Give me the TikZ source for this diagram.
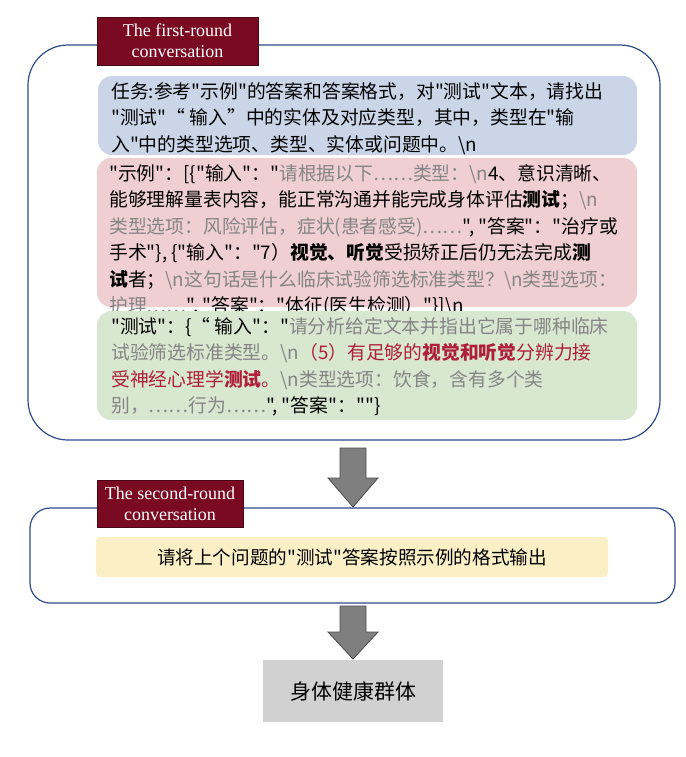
\documentclass[tikz,border=0pt]{standalone}
\usepackage{fontspec}
\setmainfont{Liberation Serif}
\newfontfamily\cjk{Noto Sans CJK SC}
\definecolor{bord}{HTML}{2F4A8A}
\definecolor{tag}{HTML}{7A0A22}
\definecolor{bluef}{HTML}{CAD6E8}
\definecolor{pinkf}{HTML}{EFCFD2}
\definecolor{greenf}{HTML}{D7E7D0}
\definecolor{yelf}{HTML}{FBEFC6}
\definecolor{grayt}{HTML}{858585}
\definecolor{redt}{HTML}{B01F3A}
\definecolor{arrf}{HTML}{7F7F7F}
\newcommand{\gt}[1]{\textcolor{grayt}{#1}}
\newcommand{\rt}[1]{\textcolor{redt}{#1}}
\begin{document}
\begin{tikzpicture}[x=1pt,y=-1pt,
  outer/.style={draw=bord,line width=1.2pt,rounded corners=#1},
  tagbox/.style={fill=tag,draw=tag!60!black,text=white,font=\fontsize{18}{21}\selectfont,align=center,inner sep=0pt},
  txt/.style={anchor=north west,align=left,inner sep=0pt,font=\cjk\fontsize{18.8}{26.5}\selectfont},
  barrow/.style={fill=arrf,draw=black!70,line width=0.8pt}]
\useasboundingbox (0,0) rectangle (685,757);
% first round
\draw[outer=40pt] (28,45) rectangle (660,440);
\node[tagbox,minimum width=161pt,minimum height=48pt] (t1) at (177.5,41) {The first-round\\conversation};
\fill[bluef,rounded corners=14pt] (98,76) rectangle (637,155);
\node[txt] (b1) at (111,82) {任务:参考"示例"的答案和答案格式，对"测试"文本，请找出\\"测试"“ 输入”中的实体及对应类型，其中，类型在"输\\入"中的类型选项、类型、实体或问题中。\textbackslash n};
\fill[pinkf,rounded corners=14pt] (97,158) rectangle (637,307);
\node[txt] (b2) at (109,164) {"示例"：[\{"输入"："\gt{请根据以下……类型：\textbackslash n}4、意识清晰、\\能够理解量表内容，能正常沟通并能完成身体评估\textbf{测试}；\gt{\textbackslash n}\\\gt{类型选项：风险评估，症状(患者感受)……}", "答案"："治疗或\\手术"\}, \{"输入"："7）\textbf{视觉、听觉}受损矫正后仍无法完成\textbf{测}\\\textbf{试}者；\gt{\textbackslash n这句话是什么临床试验筛选标准类型？\textbackslash n类型选项：}\\\gt{护理……}", "答案"："体征(医生检测）"\}]\textbackslash n};
\fill[greenf,rounded corners=14pt] (97,311) rectangle (637,420);
\node[txt] (b3) at (111,317) {"测试"：\{“ 输入"："\gt{请分析给定文本并指出它属于哪种临床}\\\gt{试验筛选标准类型。\textbackslash n}\rt{（5）有足够的\textbf{视觉和听觉}分辨力接}\\\rt{受神经心理学\textbf{测试}。}\gt{\textbackslash n类型选项：饮食，含有多个类}\\\gt{别，……行为……}", "答案"：""\}};
% arrow 1
\draw[barrow] (340,448) -- (366,448) -- (366,478) -- (378,478) -- (353,507) -- (328,478) -- (340,478) -- cycle;
% second round
\draw[outer=20pt] (30,508) rectangle (675,603);
\node[tagbox,minimum width=146pt,minimum height=47pt] (t2) at (170,503.5) {The second-round\\conversation};
\node[fill=yelf,rounded corners=4pt,minimum width=512pt,minimum height=40pt,font=\cjk\fontsize{18.6}{20}\selectfont] (y) at (352,557) {请将上个问题的"测试"答案按照示例的格式输出};
% arrow 2
\draw[barrow] (340,606) -- (366,606) -- (366,632) -- (378,632) -- (353,659) -- (328,632) -- (340,632) -- cycle;
\node[fill=black!18,minimum width=180pt,minimum height=62pt,font=\cjk\fontsize{21}{22}\selectfont] (res) at (353,691) {身体健康群体};
\end{tikzpicture}
\end{document}
